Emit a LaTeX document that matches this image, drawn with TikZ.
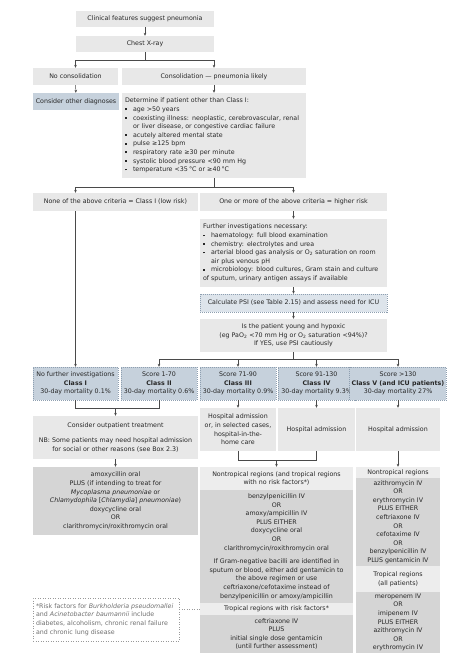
\documentclass[tikz,border=0pt]{standalone}
\usepackage{fontspec}
\setmainfont{DejaVu Sans}
\usetikzlibrary{arrows.meta,calc}
\definecolor{lg}{HTML}{E8E8E8}
\definecolor{hd}{HTML}{EDEDED}
\definecolor{dg}{HTML}{D5D5D5}
\definecolor{bl}{HTML}{C6D1DC}
\definecolor{bdr}{HTML}{8E9FB0}
\definecolor{pb}{HTML}{DDE4EB}
\definecolor{lnc}{HTML}{4A4A4A}
\definecolor{tx}{HTML}{262626}
\definecolor{ft}{HTML}{6E6E6E}
\newcommand\fs{\fontsize{6.3}{8.6}\selectfont}
\newcommand\bu{\par\noindent\hangindent=8pt\hangafter=1\makebox[8pt][l]{\raisebox{1.3pt}{\rule{1.7pt}{1.7pt}}}}
\tikzset{
  bx/.style={fill=lg, text=tx, font=\fs, inner sep=2pt, align=center},
  hdr/.style={bx, fill=hd},
  dk/.style={bx, fill=dg},
  bbx/.style={bx, fill=bl},
  cls/.style={bx, fill=bl, draw=bdr, line width=0.4pt, dash pattern=on 1pt off 1pt},
  psi/.style={bx, fill=pb, draw=bdr, line width=0.4pt, dash pattern=on 1pt off 1pt},
  note/.style={font=\fs, text=ft, draw=ft!70, line width=0.5pt, dotted, inner sep=3pt, align=left},
  wh/.style 2 args={minimum width=#1pt, minimum height=#2pt},
  conn/.style={draw=lnc, line width=0.5pt},
  arr/.style={conn, -{Stealth[length=3pt,width=2.6pt]}},
  dots/.style={draw=ft!70, line width=0.5pt, dotted},
}
\begin{document}
\begin{tikzpicture}[x=1pt,y=-1pt]
\useasboundingbox (0,0) rectangle (474,670);
% top
\node[bx,wh={138}{16}] (n1) at (145,19) {Clinical features suggest pneumonia};
\node[bx,wh={138}{16}] (n2) at (145,44) {Chest X-ray};
\node[bx,wh={85}{17}] (n3) at (75.5,76.5) {No consolidation};
\node[bx,wh={184}{17}] (n4) at (214,76.5) {Consolidation — pneumonia likely};
\node[bbx,wh={86}{17}] (n5) at (76,101.5) {Consider other diagnoses};
\node[bx,wh={184}{85},text width=178pt,align=left] (n6) at (214,135.5) {Determine if patient other than Class I:
\bu age >50 years
\bu coexisting illness: neoplastic, cerebrovascular, renal or liver disease, or congestive cardiac failure
\bu acutely altered mental state
\bu pulse ≥125 bpm
\bu respiratory rate ≥30 per minute
\bu systolic blood pressure <90 mm Hg
\bu temperature <35\,°C or ≥40\,°C};
\node[bx,wh={165}{18}] (n7) at (115.5,202) {None of the above criteria = Class I (low risk)};
\node[bx,wh={187}{18}] (n8) at (293.5,202) {One or more of the above criteria = higher risk};
\node[bx,wh={187}{68},text width=181pt,align=left] (n9) at (293.5,253) {Further investigations necessary:
\bu haematology: full blood examination
\bu chemistry: electrolytes and urea
\bu arterial blood gas analysis or O\textsubscript{2} saturation on room air plus venous pH
\bu microbiology: blood cultures, Gram stain and culture of sputum, urinary antigen assays if available};
\node[psi,wh={187}{18}] (n10) at (293.5,303) {Calculate PSI (see Table 2.15) and assess need for ICU};
\node[bx,wh={187}{33}] (n11) at (293.5,335.5) {Is the patient young and hypoxic\\(eg PaO\textsubscript{2} <70 mm Hg or O\textsubscript{2} saturation <94\%)?\\If YES, use PSI cautiously};
% classes
\node[cls,wh={85}{33}] (c1) at (75.5,383.5) {No further investigations\\\textbf{Class I}\\30-day mortality 0.1\%};
\node[cls,wh={76}{33}] (c2) at (159,383.5) {Score 1-70\\\textbf{Class II}\\30-day mortality 0.6\%};
\node[cls,wh={76}{33}] (c3) at (238,383.5) {Score 71-90\\\textbf{Class III}\\30-day mortality 0.9\%};
\node[cls,wh={77}{33}] (c4) at (316.5,383.5) {Score 91-130\\\textbf{Class IV}\\30-day mortality 9.3\%};
\node[cls,wh={84}{33}] (c5) at (398,383.5) {Score >130\\\textbf{Class V (and ICU patients)}\\30-day mortality 27\%};
% admission
\node[bx,wh={165}{43}] (o1) at (115.5,437.5) {Consider outpatient treatment\\[6pt]NB: Some patients may need hospital admission\\for social or other reasons (see Box 2.3)};
\node[bx,wh={76}{43}] (h3) at (238,429.5) {Hospital admission\\or, in selected cases,\\hospital-in-the-\\home care};
\node[bx,wh={77}{43}] (h4) at (316.5,429.5) {Hospital admission};
\node[bx,wh={84}{43}] (h5) at (398,429.5) {Hospital admission};
% antibiotics
\node[dk,wh={165}{68}] (a1) at (115.5,501) {amoxycillin oral\\PLUS (if intending to treat for\\\textit{Mycoplasma pneumoniae} or\\\textit{Chlamydophila} [\textit{Chlamydia}] \textit{pneumoniae})\\doxycycline oral\\OR\\clarithromycin/roxithromycin oral};
\node[hdr,wh={153}{23}] (m1) at (276.5,478.5) {Nontropical regions (and tropical regions\\with no risk factors*)};
\node[dk,wh={153}{113}] (m2) at (276.5,546.5) {benzylpenicillin IV\\OR\\amoxy/ampicillin IV\\PLUS EITHER\\doxycycline oral\\OR\\clarithromycin/roxithromycin oral\\[5pt]If Gram-negative bacilli are identified in\\sputum or blood, either add gentamicin to\\the above regimen or use\\ceftriaxone/cefotaxime instead of\\benzylpenicillin or amoxy/ampicillin};
\node[hdr,wh={153}{12}] (m3) at (276.5,609) {Tropical regions with risk factors*};
\node[dk,wh={153}{38}] (m4) at (276.5,634) {ceftriaxone IV\\PLUS\\initial single dose gentamicin\\(until further assessment)};
\node[hdr,wh={84}{11}] (r1) at (398,472.5) {Nontropical regions};
\node[dk,wh={84}{88}] (r2) at (398,522) {azithromycin IV\\OR\\erythromycin IV\\PLUS EITHER\\ceftriaxone IV\\OR\\cefotaxime IV\\OR\\benzylpenicillin IV\\PLUS gentamicin IV};
\node[hdr,wh={84}{26}] (r3) at (398,579) {Tropical regions\\(all patients)};
\node[dk,wh={84}{61}] (r4) at (398,622.5) {meropenem IV\\OR\\imipenem IV\\PLUS EITHER\\azithromycin IV\\OR\\erythromycin IV};
\node[note,wh={146}{43},text width=140pt] (fn) at (106,619.5) {*Risk factors for \textit{Burkholderia pseudomallei}\\and \textit{Acinetobacter baumannii} include\\diabetes, alcoholism, chronic renal failure\\and chronic lung disease};
% connectors
\coordinate (j1) at (145,60);
\coordinate (j2) at (214,187);
\coordinate (j3) at (293.5,359);
\coordinate (j4) at (115.5,408);
\coordinate (j5) at (276.5,460);
\draw[arr] (n1) -- (n2);
\draw[conn] (n2) -- (j1);
\draw[arr] (j1) -| (n3.north);
\draw[arr] (j1) -| (n4.north);
\draw[arr] (n3) -- (n5);
\draw[arr] (n4) -- (n6);
\draw[conn] (n6) -- (j2);
\draw[arr] (j2) -| (n3.south |- n7.north);
\draw[arr] (j2) -| (n8.north);
\draw[arr] (n8) -- (n9);
\draw[arr] (n9) -- (n10);
\draw[arr] (n10) -- (n11);
\draw[conn] (n11) -- (j3);
\draw[arr] (j3) -| (c2.north);
\draw[arr] (j3) -| (c3.north);
\draw[arr] (j3) -| (c4.north);
\draw[arr] (j3) -| (c5.north);
\draw[arr] (c1.north |- n7.south) -- (c1.north);
\draw[conn] (c1.south) |- (j4);
\draw[conn] (c2.south) |- (j4);
\draw[arr] (j4) -- (o1.north);
\draw[arr] (c3) -- (h3);
\draw[arr] (c4) -- (h4);
\draw[arr] (c5) -- (h5);
\draw[conn] (h3.south) |- (j5);
\draw[conn] (h4.south) |- (j5);
\draw[arr] (j5) -- (m1.north);
\draw[arr] (h5) -- (r1);
\draw[arr] (o1) -- (a1);
\draw[dots] (fn.east |- m3.west) -- (m3.west);
\end{tikzpicture}
\end{document}
